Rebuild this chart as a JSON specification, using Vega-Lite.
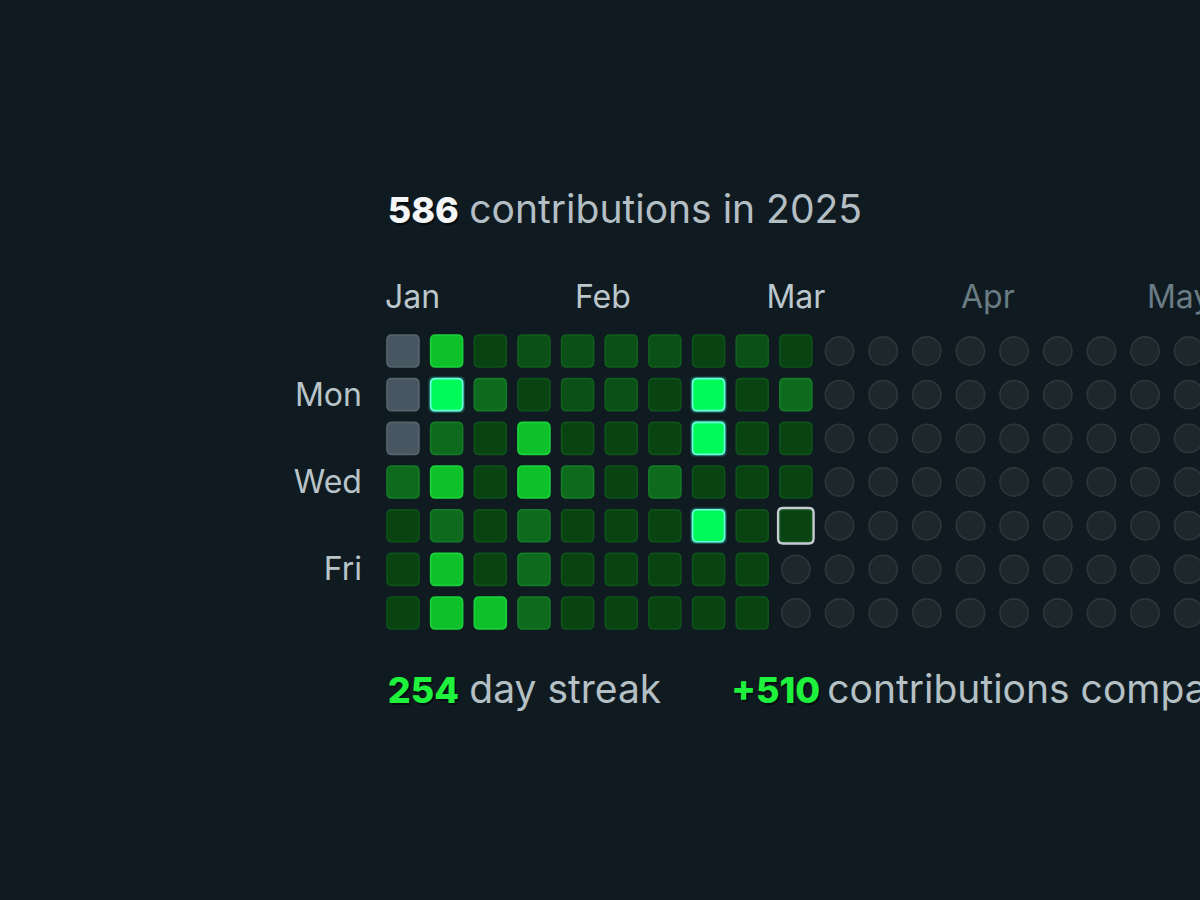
{
  "$schema": "https://vega.github.io/schema/vega-lite/v6.json",
  "width": 1200,
  "height": 900,
  "autosize": {"type": "none"},
  "padding": 0,
  "background": "#101b21",
  "config": {"view": {"stroke": null}, "font": "Inter"},
  "datasets": {
    "cells": [
      {"w": 0, "d": 0, "lv": "pre"}, {"w": 0, "d": 1, "lv": "pre"}, {"w": 0, "d": 2, "lv": "pre"}, {"w": 0, "d": 3, "lv": "3"}, {"w": 0, "d": 4, "lv": "1"}, {"w": 0, "d": 5, "lv": "1"}, {"w": 0, "d": 6, "lv": "1"},
      {"w": 1, "d": 0, "lv": "4"}, {"w": 1, "d": 1, "lv": "5"}, {"w": 1, "d": 2, "lv": "3"}, {"w": 1, "d": 3, "lv": "4"}, {"w": 1, "d": 4, "lv": "3"}, {"w": 1, "d": 5, "lv": "4"}, {"w": 1, "d": 6, "lv": "4"},
      {"w": 2, "d": 0, "lv": "1"}, {"w": 2, "d": 1, "lv": "3"}, {"w": 2, "d": 2, "lv": "1"}, {"w": 2, "d": 3, "lv": "1"}, {"w": 2, "d": 4, "lv": "1"}, {"w": 2, "d": 5, "lv": "1"}, {"w": 2, "d": 6, "lv": "4"},
      {"w": 3, "d": 0, "lv": "2"}, {"w": 3, "d": 1, "lv": "1"}, {"w": 3, "d": 2, "lv": "4"}, {"w": 3, "d": 3, "lv": "4"}, {"w": 3, "d": 4, "lv": "3"}, {"w": 3, "d": 5, "lv": "3"}, {"w": 3, "d": 6, "lv": "3"},
      {"w": 4, "d": 0, "lv": "2"}, {"w": 4, "d": 1, "lv": "2"}, {"w": 4, "d": 2, "lv": "1"}, {"w": 4, "d": 3, "lv": "3"}, {"w": 4, "d": 4, "lv": "1"}, {"w": 4, "d": 5, "lv": "1"}, {"w": 4, "d": 6, "lv": "1"},
      {"w": 5, "d": 0, "lv": "2"}, {"w": 5, "d": 1, "lv": "2"}, {"w": 5, "d": 2, "lv": "1"}, {"w": 5, "d": 3, "lv": "1"}, {"w": 5, "d": 4, "lv": "1"}, {"w": 5, "d": 5, "lv": "1"}, {"w": 5, "d": 6, "lv": "1"},
      {"w": 6, "d": 0, "lv": "2"}, {"w": 6, "d": 1, "lv": "1"}, {"w": 6, "d": 2, "lv": "1"}, {"w": 6, "d": 3, "lv": "3"}, {"w": 6, "d": 4, "lv": "1"}, {"w": 6, "d": 5, "lv": "1"}, {"w": 6, "d": 6, "lv": "1"},
      {"w": 7, "d": 0, "lv": "1"}, {"w": 7, "d": 1, "lv": "5"}, {"w": 7, "d": 2, "lv": "5"}, {"w": 7, "d": 3, "lv": "1"}, {"w": 7, "d": 4, "lv": "5"}, {"w": 7, "d": 5, "lv": "1"}, {"w": 7, "d": 6, "lv": "1"},
      {"w": 8, "d": 0, "lv": "2"}, {"w": 8, "d": 1, "lv": "1"}, {"w": 8, "d": 2, "lv": "1"}, {"w": 8, "d": 3, "lv": "1"}, {"w": 8, "d": 4, "lv": "1"}, {"w": 8, "d": 5, "lv": "1"}, {"w": 8, "d": 6, "lv": "1"},
      {"w": 9, "d": 0, "lv": "1"}, {"w": 9, "d": 1, "lv": "3"}, {"w": 9, "d": 2, "lv": "1"}, {"w": 9, "d": 3, "lv": "1"}, {"w": 9, "d": 4, "lv": "1", "today": true}, {"w": 9, "d": 5, "lv": "f"}, {"w": 9, "d": 6, "lv": "f"},
      {"w": 10, "d": 0, "lv": "f"}, {"w": 10, "d": 1, "lv": "f"}, {"w": 10, "d": 2, "lv": "f"}, {"w": 10, "d": 3, "lv": "f"}, {"w": 10, "d": 4, "lv": "f"}, {"w": 10, "d": 5, "lv": "f"}, {"w": 10, "d": 6, "lv": "f"},
      {"w": 11, "d": 0, "lv": "f"}, {"w": 11, "d": 1, "lv": "f"}, {"w": 11, "d": 2, "lv": "f"}, {"w": 11, "d": 3, "lv": "f"}, {"w": 11, "d": 4, "lv": "f"}, {"w": 11, "d": 5, "lv": "f"}, {"w": 11, "d": 6, "lv": "f"},
      {"w": 12, "d": 0, "lv": "f"}, {"w": 12, "d": 1, "lv": "f"}, {"w": 12, "d": 2, "lv": "f"}, {"w": 12, "d": 3, "lv": "f"}, {"w": 12, "d": 4, "lv": "f"}, {"w": 12, "d": 5, "lv": "f"}, {"w": 12, "d": 6, "lv": "f"},
      {"w": 13, "d": 0, "lv": "f"}, {"w": 13, "d": 1, "lv": "f"}, {"w": 13, "d": 2, "lv": "f"}, {"w": 13, "d": 3, "lv": "f"}, {"w": 13, "d": 4, "lv": "f"}, {"w": 13, "d": 5, "lv": "f"}, {"w": 13, "d": 6, "lv": "f"},
      {"w": 14, "d": 0, "lv": "f"}, {"w": 14, "d": 1, "lv": "f"}, {"w": 14, "d": 2, "lv": "f"}, {"w": 14, "d": 3, "lv": "f"}, {"w": 14, "d": 4, "lv": "f"}, {"w": 14, "d": 5, "lv": "f"}, {"w": 14, "d": 6, "lv": "f"},
      {"w": 15, "d": 0, "lv": "f"}, {"w": 15, "d": 1, "lv": "f"}, {"w": 15, "d": 2, "lv": "f"}, {"w": 15, "d": 3, "lv": "f"}, {"w": 15, "d": 4, "lv": "f"}, {"w": 15, "d": 5, "lv": "f"}, {"w": 15, "d": 6, "lv": "f"},
      {"w": 16, "d": 0, "lv": "f"}, {"w": 16, "d": 1, "lv": "f"}, {"w": 16, "d": 2, "lv": "f"}, {"w": 16, "d": 3, "lv": "f"}, {"w": 16, "d": 4, "lv": "f"}, {"w": 16, "d": 5, "lv": "f"}, {"w": 16, "d": 6, "lv": "f"},
      {"w": 17, "d": 0, "lv": "f"}, {"w": 17, "d": 1, "lv": "f"}, {"w": 17, "d": 2, "lv": "f"}, {"w": 17, "d": 3, "lv": "f"}, {"w": 17, "d": 4, "lv": "f"}, {"w": 17, "d": 5, "lv": "f"}, {"w": 17, "d": 6, "lv": "f"},
      {"w": 18, "d": 0, "lv": "f"}, {"w": 18, "d": 1, "lv": "f"}, {"w": 18, "d": 2, "lv": "f"}, {"w": 18, "d": 3, "lv": "f"}, {"w": 18, "d": 4, "lv": "f"}, {"w": 18, "d": 5, "lv": "f"}, {"w": 18, "d": 6, "lv": "f"}
    ],
    "texts": [
      {"role": "titleNum", "text": "586", "x": -0.35, "y": -3},
      {"role": "titleText", "text": "contributions in 2025", "x": 1.52, "y": -3},
      {"role": "month", "text": "Jan", "x": 0.22, "y": -1},
      {"role": "month", "text": "Feb", "x": 4.58, "y": -1},
      {"role": "month", "text": "Mar", "x": 9.0, "y": -1},
      {"role": "monthDim", "text": "Apr", "x": 13.4, "y": -1},
      {"role": "monthDim", "text": "May", "x": 17.78, "y": -1},
      {"role": "day", "text": "Mon", "x": -0.94, "y": 1},
      {"role": "day", "text": "Wed", "x": -0.94, "y": 3},
      {"role": "day", "text": "Fri", "x": -0.94, "y": 5},
      {"role": "statNum", "text": "254", "x": -0.35, "y": 8},
      {"role": "statText", "text": "day streak", "x": 1.52, "y": 8},
      {"role": "statNum", "text": "+510", "x": 7.52, "y": 8},
      {"role": "statText", "text": "contributions compared to 2024", "x": 9.72, "y": 8}
    ]
  },
  "layer": [
    {
      "data": {"name": "cells"},
      "transform": [{"filter": "datum.lv === 'f'"}],
      "mark": {"type": "point", "shape": "circle", "filled": true, "size": 800, "fill": "#1e272a", "stroke": "#2c373b", "strokeWidth": 1.6, "opacity": 1},
      "encoding": {
        "x": {"field": "w", "type": "quantitative", "scale": {"domain": [-9.232, 18.259], "nice": false, "zero": false}, "axis": null},
        "y": {"field": "d", "type": "quantitative", "scale": {"domain": [-8.037, 12.571], "nice": false, "zero": false, "reverse": true}, "axis": null}
      }
    },
    {
      "data": {"name": "cells"},
      "transform": [{"filter": "datum.lv === '5'"}],
      "mark": {"type": "point", "shape": "M -0.72,-1 L 0.72,-1 Q 1,-1 1,-0.72 L 1,0.72 Q 1,1 0.72,1 L -0.72,1 Q -1,1 -1,0.72 L -1,-0.72 Q -1,-1 -0.72,-1 Z", "filled": true, "size": 1330, "fill": "#3dffd0", "opacity": 0.22},
      "encoding": {
        "x": {"field": "w", "type": "quantitative"},
        "y": {"field": "d", "type": "quantitative"}
      }
    },
    {
      "data": {"name": "cells"},
      "transform": [{"filter": "datum.lv === '5'"}],
      "mark": {"type": "point", "shape": "M -0.72,-1 L 0.72,-1 Q 1,-1 1,-0.72 L 1,0.72 Q 1,1 0.72,1 L -0.72,1 Q -1,1 -1,0.72 L -1,-0.72 Q -1,-1 -0.72,-1 Z", "filled": true, "size": 1160, "fill": "#3dffd0", "opacity": 0.35},
      "encoding": {
        "x": {"field": "w", "type": "quantitative"},
        "y": {"field": "d", "type": "quantitative"}
      }
    },
    {
      "data": {"name": "cells"},
      "transform": [{"filter": "datum.lv !== 'f'"}],
      "mark": {"type": "point", "shape": "M -0.69,-1 L 0.69,-1 Q 1,-1 1,-0.69 L 1,0.69 Q 1,1 0.69,1 L -0.69,1 Q -1,1 -1,0.69 L -1,-0.69 Q -1,-1 -0.69,-1 Z", "filled": true, "size": 1024, "strokeWidth": 1.6, "opacity": 1},
      "encoding": {
        "x": {"field": "w", "type": "quantitative"},
        "y": {"field": "d", "type": "quantitative"},
        "fill": {"field": "lv", "type": "nominal", "scale": {"domain": ["pre", "1", "2", "3", "4", "5"], "range": ["#485661", "#0a4312", "#0b5016", "#0e6b1e", "#0ec12a", "#00fb58"]}, "legend": null},
        "stroke": {"field": "lv", "type": "nominal", "scale": {"domain": ["pre", "1", "2", "3", "4", "5"], "range": ["#56646e", "#0e531a", "#105f1d", "#147c26", "#1ad23a", "#6affe0"]}, "legend": null}
      }
    },
    {
      "data": {"name": "cells"},
      "transform": [{"filter": "datum.today === true"}],
      "mark": {"type": "point", "shape": "M -0.72,-1 L 0.72,-1 Q 1,-1 1,-0.72 L 1,0.72 Q 1,1 0.72,1 L -0.72,1 Q -1,1 -1,0.72 L -1,-0.72 Q -1,-1 -0.72,-1 Z", "filled": false, "size": 1260, "stroke": "#c5cdd1", "strokeWidth": 2.4, "opacity": 1},
      "encoding": {
        "x": {"field": "w", "type": "quantitative"},
        "y": {"field": "d", "type": "quantitative"}
      }
    },
    {
      "data": {"name": "texts"},
      "transform": [{"filter": "datum.role === 'titleNum' || datum.role === 'statNum'"}],
      "mark": {"type": "text", "align": "left", "baseline": "alphabetic", "fontSize": 36, "fontWeight": 800, "fill": "#000000", "opacity": 0.55, "dx": 1.5, "dy": 5},
      "encoding": {
        "x": {"field": "x", "type": "quantitative"},
        "y": {"field": "y", "type": "quantitative"},
        "text": {"field": "text"}
      }
    },
    {
      "data": {"name": "texts"},
      "transform": [{"filter": "datum.role === 'titleNum'"}],
      "mark": {"type": "text", "align": "left", "baseline": "alphabetic", "fontSize": 36, "fontWeight": 800, "fill": "#f3f5f6", "dy": 3},
      "encoding": {
        "x": {"field": "x", "type": "quantitative"},
        "y": {"field": "y", "type": "quantitative"},
        "text": {"field": "text"}
      }
    },
    {
      "data": {"name": "texts"},
      "transform": [{"filter": "datum.role === 'titleText'"}],
      "mark": {"type": "text", "align": "left", "baseline": "alphabetic", "fontSize": 39, "fontWeight": 400, "fill": "#b4bfc5", "dy": 3},
      "encoding": {
        "x": {"field": "x", "type": "quantitative"},
        "y": {"field": "y", "type": "quantitative"},
        "text": {"field": "text"}
      }
    },
    {
      "data": {"name": "texts"},
      "transform": [{"filter": "datum.role === 'month'"}],
      "mark": {"type": "text", "align": "center", "baseline": "alphabetic", "fontSize": 32, "fontWeight": 400, "fill": "#bcc7cc", "dy": 1},
      "encoding": {
        "x": {"field": "x", "type": "quantitative"},
        "y": {"field": "y", "type": "quantitative"},
        "text": {"field": "text"}
      }
    },
    {
      "data": {"name": "texts"},
      "transform": [{"filter": "datum.role === 'monthDim'"}],
      "mark": {"type": "text", "align": "center", "baseline": "alphabetic", "fontSize": 32, "fontWeight": 400, "fill": "#6a7c84", "dy": 1},
      "encoding": {
        "x": {"field": "x", "type": "quantitative"},
        "y": {"field": "y", "type": "quantitative"},
        "text": {"field": "text"}
      }
    },
    {
      "data": {"name": "texts"},
      "transform": [{"filter": "datum.role === 'day'"}],
      "mark": {"type": "text", "align": "right", "baseline": "alphabetic", "fontSize": 32, "fontWeight": 400, "fill": "#b9c4c9", "dy": 11},
      "encoding": {
        "x": {"field": "x", "type": "quantitative"},
        "y": {"field": "y", "type": "quantitative"},
        "text": {"field": "text"}
      }
    },
    {
      "data": {"name": "texts"},
      "transform": [{"filter": "datum.role === 'statNum'"}],
      "mark": {"type": "text", "align": "left", "baseline": "alphabetic", "fontSize": 36, "fontWeight": 800, "fill": "#1ff23c", "dy": 3},
      "encoding": {
        "x": {"field": "x", "type": "quantitative"},
        "y": {"field": "y", "type": "quantitative"},
        "text": {"field": "text"}
      }
    },
    {
      "data": {"name": "texts"},
      "transform": [{"filter": "datum.role === 'statText'"}],
      "mark": {"type": "text", "align": "left", "baseline": "alphabetic", "fontSize": 39, "fontWeight": 400, "fill": "#b5c0c5", "dy": 3},
      "encoding": {
        "x": {"field": "x", "type": "quantitative"},
        "y": {"field": "y", "type": "quantitative"},
        "text": {"field": "text"}
      }
    }
  ]
}
